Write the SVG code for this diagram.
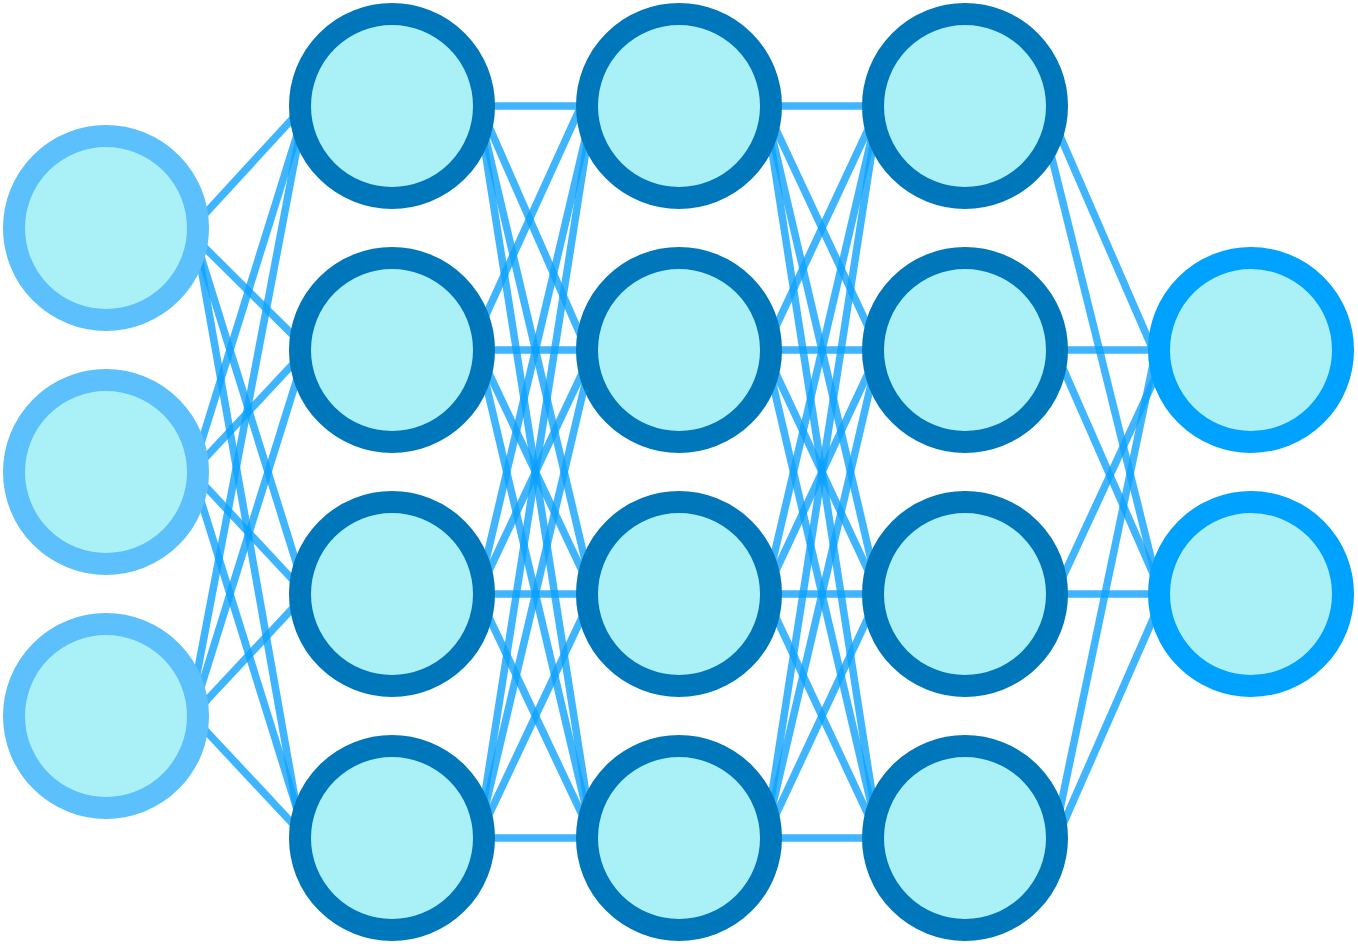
<svg xmlns="http://www.w3.org/2000/svg" width="1358" height="944" viewBox="0 0 1358 944">
<style>
.edge{stroke:#0AA0FF;stroke-opacity:0.78;stroke-width:7.5;fill:none}
.node circle{fill:#A9F1F6;stroke-width:22}
.in circle{stroke:#5BC0FC}
.hid circle{stroke:#0077BB}
.out circle{stroke:#00A2FF}
</style>
<rect width="1358" height="944" fill="#FFFFFF"/>
<g id="connectors" class="edge">
<line x1="192" y1="228" x2="306" y2="104"/>
<line x1="188" y1="231" x2="308" y2="350"/>
<line x1="192" y1="228" x2="306" y2="594"/>
<line x1="194" y1="228" x2="302" y2="838"/>
<line x1="192" y1="472" x2="306" y2="106"/>
<line x1="192" y1="472" x2="306" y2="350"/>
<line x1="192" y1="472" x2="306" y2="594"/>
<line x1="192" y1="472" x2="306" y2="838"/>
<line x1="189" y1="716" x2="305" y2="106"/>
<line x1="192" y1="716" x2="306" y2="350"/>
<line x1="192" y1="716" x2="306" y2="594"/>
<line x1="192" y1="716" x2="306" y2="838"/>
<line x1="478" y1="106" x2="593" y2="106"/>
<line x1="480" y1="106" x2="587" y2="350"/>
<line x1="478" y1="106" x2="593" y2="594"/>
<line x1="478" y1="106" x2="593" y2="838"/>
<line x1="470" y1="350" x2="581" y2="106"/>
<line x1="478" y1="350" x2="593" y2="350"/>
<line x1="478" y1="350" x2="593" y2="594"/>
<line x1="478" y1="350" x2="593" y2="838"/>
<line x1="478" y1="594" x2="593" y2="106"/>
<line x1="478" y1="594" x2="593" y2="350"/>
<line x1="478" y1="594" x2="593" y2="594"/>
<line x1="478" y1="594" x2="593" y2="838"/>
<line x1="478" y1="838" x2="593" y2="106"/>
<line x1="478" y1="838" x2="593" y2="350"/>
<line x1="478" y1="838" x2="593" y2="594"/>
<line x1="478" y1="838" x2="593" y2="838"/>
<line x1="765" y1="106" x2="879" y2="106"/>
<line x1="765" y1="106" x2="879" y2="350"/>
<line x1="765" y1="106" x2="879" y2="594"/>
<line x1="765" y1="106" x2="879" y2="838"/>
<line x1="765" y1="350" x2="879" y2="106"/>
<line x1="765" y1="350" x2="879" y2="350"/>
<line x1="765" y1="350" x2="879" y2="594"/>
<line x1="765" y1="350" x2="879" y2="838"/>
<line x1="765" y1="594" x2="879" y2="106"/>
<line x1="765" y1="594" x2="879" y2="350"/>
<line x1="765" y1="594" x2="879" y2="594"/>
<line x1="765" y1="594" x2="879" y2="838"/>
<line x1="765" y1="838" x2="879" y2="106"/>
<line x1="765" y1="838" x2="879" y2="350"/>
<line x1="765" y1="838" x2="879" y2="594"/>
<line x1="765" y1="838" x2="879" y2="838"/>
<line x1="1047" y1="106" x2="1153" y2="350"/>
<line x1="1039" y1="106" x2="1160" y2="594"/>
<line x1="1051" y1="350" x2="1163" y2="350"/>
<line x1="1055" y1="350" x2="1162" y2="594"/>
<line x1="1055" y1="594" x2="1168" y2="350"/>
<line x1="1051" y1="594" x2="1163" y2="594"/>
<line x1="1054" y1="838" x2="1156" y2="350"/>
<line x1="1057" y1="838" x2="1164" y2="594"/>
</g>
<g id="input-1" class="node in"><circle cx="106" cy="228" r="92"/></g>
<g id="input-2" class="node in"><circle cx="106" cy="472" r="92"/></g>
<g id="input-3" class="node in"><circle cx="106" cy="716" r="92"/></g>
<g id="hidden1-1" class="node hid"><circle cx="392" cy="106" r="92"/></g>
<g id="hidden1-2" class="node hid"><circle cx="392" cy="350" r="92"/></g>
<g id="hidden1-3" class="node hid"><circle cx="392" cy="594" r="92"/></g>
<g id="hidden1-4" class="node hid"><circle cx="392" cy="838" r="92"/></g>
<g id="hidden2-1" class="node hid"><circle cx="679" cy="106" r="92"/></g>
<g id="hidden2-2" class="node hid"><circle cx="679" cy="350" r="92"/></g>
<g id="hidden2-3" class="node hid"><circle cx="679" cy="594" r="92"/></g>
<g id="hidden2-4" class="node hid"><circle cx="679" cy="838" r="92"/></g>
<g id="hidden3-1" class="node hid"><circle cx="965" cy="106" r="92"/></g>
<g id="hidden3-2" class="node hid"><circle cx="965" cy="350" r="92"/></g>
<g id="hidden3-3" class="node hid"><circle cx="965" cy="594" r="92"/></g>
<g id="hidden3-4" class="node hid"><circle cx="965" cy="838" r="92"/></g>
<g id="output-1" class="node out"><circle cx="1251" cy="350" r="92"/></g>
<g id="output-2" class="node out"><circle cx="1251" cy="594" r="92"/></g>
</svg>
